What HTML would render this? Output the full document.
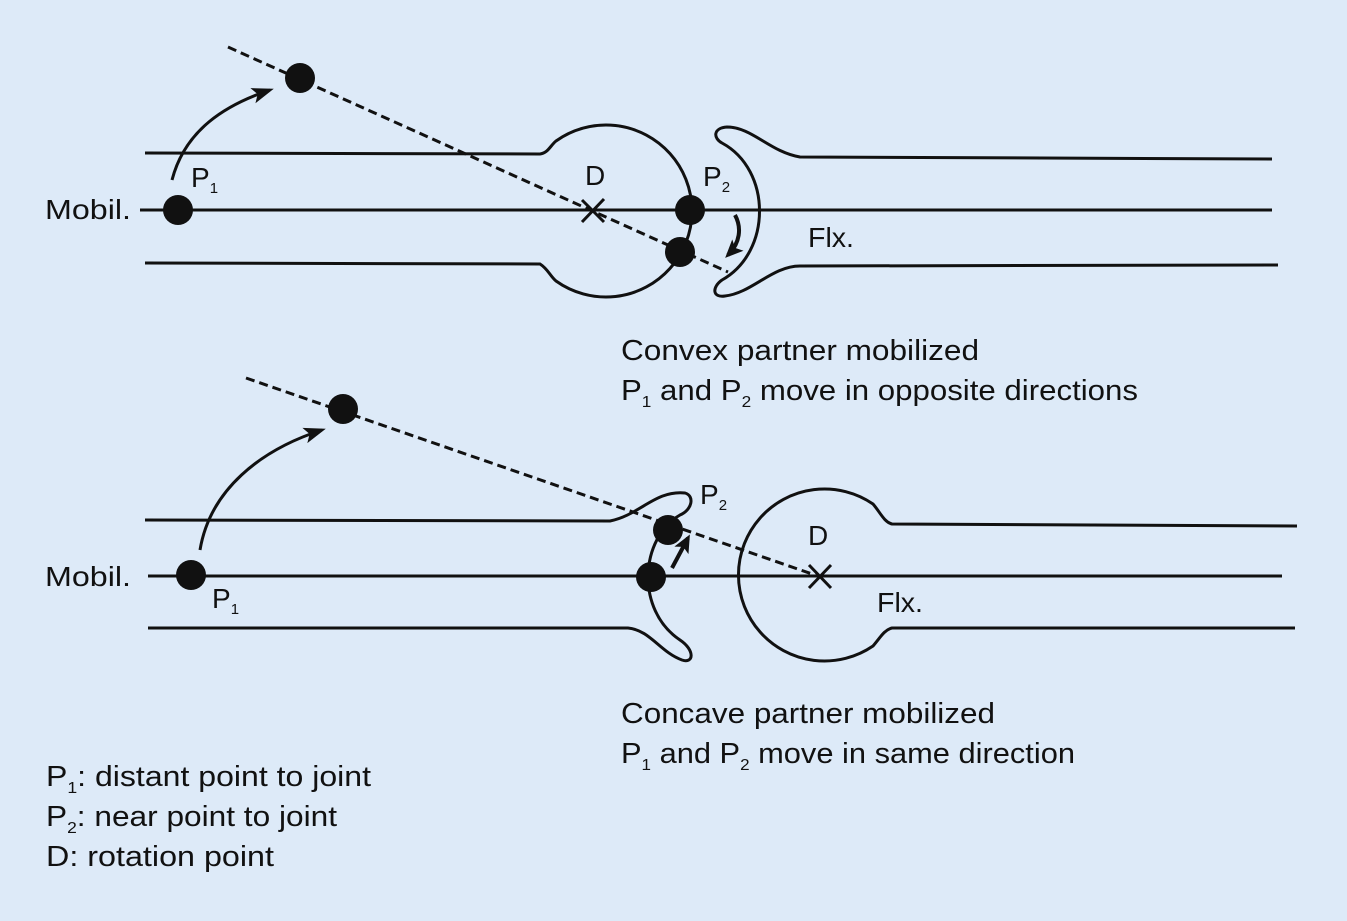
<!DOCTYPE html>
<html><head><meta charset="utf-8"><style>
html,body{margin:0;padding:0;background:#ddeaf8;}
svg{display:block}
text{font-family:"Liberation Sans",sans-serif;fill:#111;}
</style></head><body>
<svg width="1347" height="921" viewBox="0 0 1347 921" xmlns="http://www.w3.org/2000/svg">
<defs>
<marker id="ah" markerWidth="22" markerHeight="18" refX="18" refY="9" orient="auto" markerUnits="userSpaceOnUse" viewBox="0 0 22 18">
<path d="M0,1 L22,9 L0,17 L5,9 Z" fill="#111"/></marker>
<marker id="ah2" markerWidth="18" markerHeight="16" refX="14" refY="8" orient="auto" markerUnits="userSpaceOnUse" viewBox="0 0 18 16">
<path d="M0,0 L18,8 L0,16 L4,8 Z" fill="#111"/></marker>
</defs>
<rect width="1347" height="921" fill="#ddeaf8"/>
<g fill="none" stroke="#111" stroke-width="3">
<!-- TOP -->
<path d="M145,153 L540,154 C548,153 550,146 556,141 A86,86 0 1 1 556,281 C550,276 548,269 540,264 L145,263"/>
<line x1="140" y1="210" x2="1272" y2="210"/>
<path d="M1272,159 L800,157 C770,152 752,127 727,127 C713,128 713,138 722,143 C772,170 772,252 722,280 C712,287 712,298 725,296 C752,293 772,266 800,266 L1278,265"/>
<line x1="228" y1="47" x2="728" y2="272" stroke-dasharray="9,5"/>
<path d="M172,180 C185,130 225,105 270,90" marker-end="url(#ah)"/>
<path d="M735,215 C742,228 740,243 728,255" marker-end="url(#ah2)" stroke-width="4"/>
<path d="M582,200 L604,222 M604,199 L582,222"/>
<!-- BOTTOM -->
<path d="M145,520 L610,521 C640,515 655,490 685,493 C695,496 692,510 680,515 C640,538 635,610 680,640 C695,650 694,664 682,660 C660,652 650,630 628,628 L148,628"/>
<path d="M1297,526 L892,524 C884,522 880,512 873,504 A86,86 0 1 0 873,646 C880,638 884,630 892,628 L1295,628"/>
<line x1="148" y1="576" x2="1282" y2="576"/>
<line x1="246" y1="378" x2="815" y2="575" stroke-dasharray="9,5"/>
<path d="M200,550 C210,490 260,450 322,430" marker-end="url(#ah)"/>
<path d="M672,568 L688,538" marker-end="url(#ah2)" stroke-width="4"/>
<path d="M809,565 L831,588 M831,565 L809,588"/>
</g>
<g fill="#111">
<circle cx="178" cy="210" r="15"/>
<circle cx="690" cy="210" r="15"/>
<circle cx="680" cy="252" r="15"/>
<circle cx="300" cy="78" r="15"/>
<circle cx="191" cy="575" r="15"/>
<circle cx="651" cy="577" r="15"/>
<circle cx="668" cy="530" r="15"/>
<circle cx="343" cy="409" r="15"/>
</g>
<g font-size="28">
<text x="45" y="219" textLength="86" lengthAdjust="spacingAndGlyphs">Mobil.</text>
<text x="191" y="187">P<tspan font-size="15" dy="6">1</tspan></text>
<text x="585" y="185">D</text>
<text x="703" y="186">P<tspan font-size="15" dy="6">2</tspan></text>
<text x="808" y="247" textLength="46" lengthAdjust="spacingAndGlyphs">Flx.</text>
<text x="45" y="586" textLength="86" lengthAdjust="spacingAndGlyphs">Mobil.</text>
<text x="212" y="608">P<tspan font-size="15" dy="6">1</tspan></text>
<text x="700" y="504">P<tspan font-size="15" dy="6">2</tspan></text>
<text x="808" y="545">D</text>
<text x="877" y="612" textLength="46" lengthAdjust="spacingAndGlyphs">Flx.</text>
</g>
<g font-size="29">
<text x="621" y="360" textLength="358" lengthAdjust="spacingAndGlyphs">Convex partner mobilized</text>
<text x="621" y="400" textLength="517" lengthAdjust="spacingAndGlyphs">P<tspan font-size="16" dy="7">1</tspan><tspan dy="-7"> and P</tspan><tspan font-size="16" dy="7">2</tspan><tspan dy="-7"> move in opposite directions</tspan></text>
<text x="621" y="723" textLength="374" lengthAdjust="spacingAndGlyphs">Concave partner mobilized</text>
<text x="621" y="763" textLength="454" lengthAdjust="spacingAndGlyphs">P<tspan font-size="16" dy="7">1</tspan><tspan dy="-7"> and P</tspan><tspan font-size="16" dy="7">2</tspan><tspan dy="-7"> move in same direction</tspan></text>
<text x="46" y="786" textLength="325" lengthAdjust="spacingAndGlyphs">P<tspan font-size="16" dy="7">1</tspan><tspan dy="-7">: distant point to joint</tspan></text>
<text x="46" y="826" textLength="291" lengthAdjust="spacingAndGlyphs">P<tspan font-size="16" dy="7">2</tspan><tspan dy="-7">: near point to joint</tspan></text>
<text x="46" y="866" textLength="228" lengthAdjust="spacingAndGlyphs">D: rotation point</text>
</g>
</svg>
</body></html>
